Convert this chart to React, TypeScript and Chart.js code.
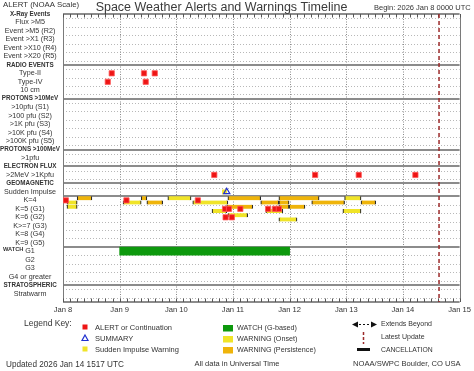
import { useEffect, useRef } from 'react';
import { Chart, registerables } from 'chart.js';

Chart.register(...registerables);

// ---------- data ----------
const rowLabels = [
  'X-Ray Events', 'Flux >M5', 'Event >M5 (R2)', 'Event >X1 (R3)', 'Event >X10 (R4)', 'Event >X20 (R5)',
  'RADIO EVENTS', 'Type-II', 'Type-IV', '10 cm',
  'PROTONS >10MeV', '>10pfu (S1)', '>100 pfu (S2)', '>1K pfu (S3)', '>10K pfu (S4)', '>100K pfu (S5)',
  'PROTONS >100MeV', '>1pfu',
  'ELECTRON FLUX', '>2MeV >1Kpfu',
  'GEOMAGNETIC', 'Sudden Impulse', 'K=4', 'K=5 (G1)', 'K=6 (G2)', 'K>=7 (G3)', 'K=8 (G4)', 'K=9 (G5)',
  'G1', 'G2', 'G3', 'G4 or greater',
  'STRATOSPHERIC', 'Stratwarm',
];
const headerRows = [0, 6, 10, 16, 18, 20, 32];
const separatorRows = [6, 10, 16, 18, 20, 21.5, 27.5, 32];
const dayLabels = ['Jan 8', 'Jan 9', 'Jan 10', 'Jan 11', 'Jan 12', 'Jan 13', 'Jan 14', 'Jan 15'];
const latestUpdateDay = 6.637; // 2026 Jan 14 1517 UTC, days since Jan 8 0000

// row indices
const ROW_TYPE_II = 7;
const ROW_TYPE_IV = 8;
const ROW_ELECTRON = 19;
const ROW_SUDDEN = 21;
const ROW_K4 = 22;
const ROW_K5 = 23;
const ROW_K6 = 24;
const ROW_WATCH_G1 = 28;

// alerts (day since Jan 8 0000 UTC)
const typeIIAlerts = [0.86, 1.43, 1.62];
const typeIVAlerts = [0.79, 1.46];
const electronAlerts = [2.67, 4.45, 5.22, 6.22];
const k4Alerts = [0.05, 1.12, 2.38];
const k5Alerts = [2.86, 2.93, 3.13, 3.62, 3.74, 3.81];
const k6Alerts = [2.87, 2.98];
const suddenImpulseWarnings = [2.85];
const summaries = [2.89];

// warnings: [start day, end day, row, lane (-1 upper / +1 lower)]
const onsetWarnings = [
  [0.07, 0.25, ROW_K4, 1], [1.06, 1.38, ROW_K4, 1], [1.85, 2.26, ROW_K4, -1], [2.29, 2.91, ROW_K4, 1], [4.97, 5.26, ROW_K4, -1],
  [0.07, 0.25, ROW_K5, -1], [2.63, 2.89, ROW_K5, 1], [3.58, 3.88, ROW_K5, 1], [4.94, 5.26, ROW_K5, 1],
  [2.91, 3.26, ROW_K6, -1], [3.81, 4.13, ROW_K6, 1],
];
const persistenceWarnings = [
  [0.25, 0.51, ROW_K4, -1], [1.38, 1.48, ROW_K4, -1], [1.48, 1.76, ROW_K4, 1], [2.91, 3.49, ROW_K4, -1], [3.81, 4.52, ROW_K4, -1],
  [3.49, 3.81, ROW_K4, 1], [3.81, 3.99, ROW_K4, 1], [4.39, 4.97, ROW_K4, 1], [5.26, 5.52, ROW_K4, 1],
  [2.89, 3.35, ROW_K5, -1], [3.81, 3.99, ROW_K5, -1], [3.99, 4.27, ROW_K5, -1],
];
const watches = [[1.0, 4.0, ROW_WATCH_G1]];

// ---------- styles ----------
const FONT = "'Liberation Sans', Arial, Helvetica, sans-serif";
const NARROW = "'Liberation Sans Narrow', 'Liberation Sans', Arial, sans-serif";
const RED = '#ee1515';
const YELLOW = '#f0e428';
const ORANGE = '#efb40a';
const GREEN = '#0d990d';
const BLUE = '#2030d0';
const TEXT = '#333333';

const pts = (days: number[], row: number) => days.map((d) => ({ x: d, y: row }));
const bars = (list: number[][]) => list.map(([s, e, r, lane]) => ({ x: [s, e], y: r + (lane || 0) * 0.25 }));

const decorPlugin = {
  id: 'decor',
  beforeDatasetsDraw(chart: any) {
    const { ctx, chartArea: a, scales } = chart;
    const x = scales.x;
    const y = scales.y;
    const line = (x1: number, y1: number, x2: number, y2: number) => {
      ctx.beginPath();
      ctx.moveTo(x1, y1);
      ctx.lineTo(x2, y2);
      ctx.stroke();
    };
    ctx.save();
    // dotted row lines
    ctx.strokeStyle = '#b8b8b8';
    ctx.lineWidth = 1;
    ctx.setLineDash([1, 2]);
    for (let r = 0.5; r < 34; r += 1) {
      if (separatorRows.includes(r)) continue;
      const py = Math.round(y.getPixelForValue(r)) + 0.5;
      line(a.left, py, a.right, py);
    }
    // dotted day lines
    ctx.strokeStyle = '#8a8a8a';
    ctx.setLineDash([1, 1.5]);
    for (let d = 1; d < 7; d++) {
      const px = Math.round(x.getPixelForValue(d)) + 0.5;
      line(px, a.top, px, a.bottom);
    }
    ctx.setLineDash([]);
    // separators
    ctx.strokeStyle = '#8c8c8c';
    ctx.lineWidth = 2;
    for (const r of separatorRows) {
      const py = Math.round(y.getPixelForValue(r));
      line(a.left, py, a.right, py);
    }
    // frame
    ctx.strokeStyle = '#7a7a7a';
    ctx.lineWidth = 1;
    line(Math.round(a.left) + 0.5, a.top, Math.round(a.left) + 0.5, a.bottom);
    line(Math.round(a.right) + 0.5, a.top, Math.round(a.right) + 0.5, a.bottom);
    ctx.strokeStyle = '#666';
    ctx.lineWidth = 1.5;
    line(a.left, a.top, a.right, a.top);
    line(a.left, a.bottom, a.right, a.bottom);
    // minor ticks every 3 hours
    ctx.lineWidth = 1;
    ctx.strokeStyle = '#555';
    for (let t = 0; t <= 7.0001; t += 0.125) {
      const px = Math.round(x.getPixelForValue(t)) + 0.5;
      line(px, a.top, px, a.top + 3.5);
      line(px, a.bottom - 3.5, px, a.bottom);
    }
    ctx.restore();
  },
  afterDraw(chart: any) {
    const { ctx, scales } = chart;
    const y = scales.y;
    const txt = (s: string, px: number, py: number, size: number, align: CanvasTextAlign = 'left', weight = 'normal', color = TEXT) => {
      ctx.font = `${weight} ${size}px ${FONT}`;
      ctx.fillStyle = color;
      ctx.textAlign = align;
      ctx.textBaseline = 'middle';
      ctx.fillText(s, px, py);
    };
    ctx.save();
    // header texts
    txt('ALERT (NOAA Scale)', 3, 5, 7.8);
    txt('Space Weather Alerts and Warnings Timeline', 221.5, 8, 12.5, 'center', 'normal', '#3a3a3a');
    txt('Begin: 2026 Jan 8 0000 UTC', 374, 8, 7.5);
    txt('WATCH', 3, y.getPixelForValue(ROW_WATCH_G1) - 1.5, 5.7, 'left', 'bold');

    // legend
    txt('Legend Key:', 24, 324, 8.5);
    ctx.fillStyle = RED;
    ctx.fillRect(82.5, 324.5, 5, 5);
    txt('ALERT or Continuation', 95, 327.5, 7.5);
    ctx.strokeStyle = BLUE;
    ctx.lineWidth = 1.2;
    ctx.beginPath();
    ctx.moveTo(85, 335);
    ctx.lineTo(88, 340.5);
    ctx.lineTo(82, 340.5);
    ctx.closePath();
    ctx.stroke();
    txt('SUMMARY', 95, 338.5, 7.5);
    ctx.fillStyle = YELLOW;
    ctx.fillRect(82.5, 346.5, 5, 5);
    txt('Sudden Impulse Warning', 95, 349.5, 7.5);

    ctx.fillStyle = GREEN;
    ctx.fillRect(223, 325, 10, 6.5);
    txt('WATCH (G-based)', 237, 328.5, 7.2);
    ctx.fillStyle = YELLOW;
    ctx.fillRect(223, 336, 10, 6.5);
    txt('WARNING (Onset)', 237, 339.5, 7.2);
    ctx.fillStyle = ORANGE;
    ctx.fillRect(223, 347, 10, 6.5);
    txt('WARNING (Persistence)', 237, 350.5, 7.2);
    txt('All data in Universal Time', 237, 364, 7.5, 'center');

    // extends beyond arrow
    ctx.fillStyle = '#111';
    ctx.beginPath();
    ctx.moveTo(352, 324.5);
    ctx.lineTo(358, 321.5);
    ctx.lineTo(358, 327.5);
    ctx.closePath();
    ctx.fill();
    ctx.beginPath();
    ctx.moveTo(377, 324.5);
    ctx.lineTo(371, 321.5);
    ctx.lineTo(371, 327.5);
    ctx.closePath();
    ctx.fill();
    ctx.strokeStyle = '#111';
    ctx.lineWidth = 1;
    ctx.setLineDash([2, 2]);
    ctx.beginPath();
    ctx.moveTo(359, 324.5);
    ctx.lineTo(371, 324.5);
    ctx.stroke();
    txt('Extends Beyond', 381, 324.5, 7);
    // latest update legend
    ctx.strokeStyle = '#9c2a2a';
    ctx.lineWidth = 1.5;
    ctx.setLineDash([3, 2]);
    ctx.beginPath();
    ctx.moveTo(363.5, 332);
    ctx.lineTo(363.5, 344);
    ctx.stroke();
    ctx.setLineDash([]);
    txt('Latest Update', 381, 337.5, 7);
    ctx.fillStyle = '#111';
    ctx.fillRect(357, 348, 13, 3);
    txt('CANCELLATION', 381, 350, 6.8);
    txt('NOAA/SWPC Boulder, CO USA', 353, 363.5, 7.6);
    txt('Updated 2026 Jan 14 1517 UTC', 6, 365, 8.2);
    ctx.restore();
  },
};

export default function App() {
  const ref = useRef<HTMLCanvasElement>(null);
  useEffect(() => {
    const chart = new Chart(ref.current as HTMLCanvasElement, {
      type: 'scatter',
      data: {
        datasets: [
          {
            type: 'scatter',
            label: 'Summary',
            data: pts(summaries, ROW_SUDDEN),
            pointStyle: 'triangle',
            pointRadius: 3.6,
            backgroundColor: 'rgba(0,0,0,0)',
            borderColor: BLUE,
            borderWidth: 1.2,
          },
          {
            type: 'scatter',
            label: 'Alerts',
            data: [
              ...pts(typeIIAlerts, ROW_TYPE_II),
              ...pts(typeIVAlerts, ROW_TYPE_IV),
              ...pts(electronAlerts, ROW_ELECTRON),
              ...pts(k4Alerts, ROW_K4),
              ...pts(k5Alerts, ROW_K5),
              ...pts(k6Alerts, ROW_K6),
            ],
            pointStyle: 'rect',
            pointRadius: 3.7,
            backgroundColor: RED,
            borderColor: '#ff5a5a',
            borderWidth: 0.8,
          },
          {
            type: 'scatter',
            label: 'Sudden Impulse Warning',
            data: pts(suddenImpulseWarnings, ROW_SUDDEN),
            pointStyle: 'rect',
            pointRadius: 3.4,
            backgroundColor: YELLOW,
            borderColor: YELLOW,
            borderWidth: 0,
          },
          {
            type: 'line',
            label: 'Latest Update',
            data: [
              { x: latestUpdateDay, y: 0 },
              { x: latestUpdateDay, y: 34 },
            ],
            borderColor: '#9c2a2a',
            borderWidth: 1.5,
            borderDash: [4, 3],
            pointRadius: 0,
          },
          {
            type: 'bar',
            label: 'Warning (Onset)',
            indexAxis: 'y',
            stack: 'lanes',
            data: bars(onsetWarnings),
            backgroundColor: YELLOW,
            borderColor: '#2a2a2a',
            borderWidth: { left: 1.2, right: 1.2, top: 0, bottom: 0 },
            borderSkipped: false,
            barThickness: 4,
          },
          {
            type: 'bar',
            label: 'Warning (Persistence)',
            indexAxis: 'y',
            stack: 'lanes',
            data: bars(persistenceWarnings),
            backgroundColor: ORANGE,
            borderColor: '#2a2a2a',
            borderWidth: { left: 1.2, right: 1.2, top: 0, bottom: 0 },
            borderSkipped: false,
            barThickness: 4,
          },
          {
            type: 'bar',
            label: 'Watch',
            indexAxis: 'y',
            stack: 'lanes',
            data: bars(watches),
            backgroundColor: GREEN,
            borderWidth: 0,
            barThickness: 8,
          },
        ] as any,
      },
      options: {
        responsive: false,
        animation: false,
        events: [],
        layout: { padding: { left: 0, top: 14, right: 14, bottom: 0 } },
        plugins: { legend: { display: false }, tooltip: { enabled: false }, title: { display: false } },
        scales: {
          x: {
            type: 'linear',
            min: 0,
            max: 7,
            offset: false,
            stacked: false,
            grid: { display: false, drawTicks: false, offset: false },
            border: { display: false },
            afterFit: (s: any) => {
              s.height = 69;
            },
            ticks: {
              stepSize: 1,
              autoSkip: false,
              maxRotation: 0,
              padding: 3,
              color: TEXT,
              font: { family: FONT, size: 7.6 },
              callback: (v: any) => dayLabels[v] ?? '',
            },
          },
          y: {
            type: 'linear',
            reverse: true,
            min: 0,
            max: 34,
            offset: false,
            grid: { display: false, drawTicks: false, offset: false },
            border: { display: false },
            afterBuildTicks: (s: any) => {
              s.ticks = rowLabels.map((_, i) => ({ value: i }));
            },
            afterFit: (s: any) => {
              s.width = 63;
            },
            ticks: {
              autoSkip: false,
              crossAlign: 'center',
              padding: 3,
              color: TEXT,
              font: (c: any) =>
                headerRows.includes(c.index)
                  ? { family: FONT, size: 6.3, weight: 'bold' }
                  : { family: NARROW, size: 7.2 },
              callback: (v: any) => rowLabels[v] ?? '',
            },
          },
        },
      } as any,
      plugins: [decorPlugin],
    });
    return () => chart.destroy();
  }, []);
  return (
    <div style={{ position: 'absolute', left: 0, top: 0, width: 474, height: 371, background: '#fff' }}>
      <canvas ref={ref} width={474} height={371} style={{ display: 'block' }} />
    </div>
  );
}
